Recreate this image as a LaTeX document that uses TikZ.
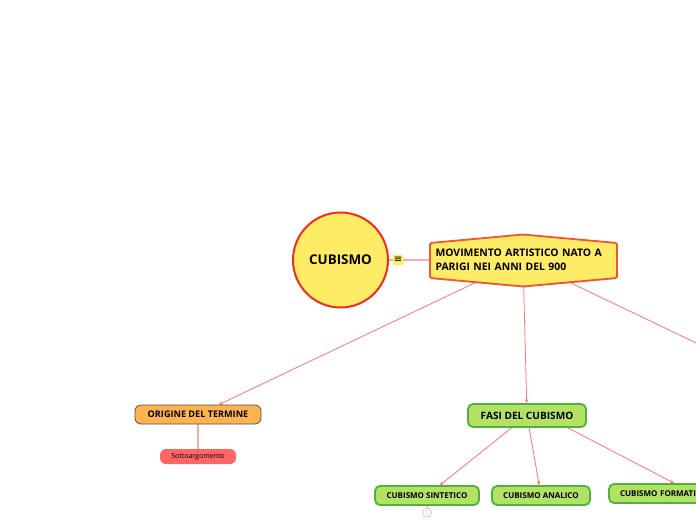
\documentclass[tikz,border=0pt]{standalone}
\usepackage{fontspec}
\setmainfont{Open Sans}[BoldFont={Open Sans Bold}]
\newfontfamily\symbfont{DejaVu Sans}
\usetikzlibrary{arrows.meta, backgrounds, shadows}
\definecolor{linkred}{HTML}{FF7570}
\definecolor{paleLink}{HTML}{FFA8A4}
\definecolor{yellowfill}{HTML}{FFEC66}
\definecolor{greenfill}{HTML}{B2E164}
\definecolor{greenline}{HTML}{4DB33D}

\begin{document}
\begin{tikzpicture}[
    x=1pt, y=-1pt,
    link/.style={-{Stealth[length=4pt, width=3.5pt]}, line width=0.8pt, linkred},
    plainlink/.style={line width=1.1pt, paleLink},
    phase/.style={draw=greenline, fill=greenfill, line width=1.8pt, rounded corners=5pt,
        inner sep=0pt, font=\fontsize{8}{10}\selectfont\bfseries}
]
    \useasboundingbox (0, 0) rectangle (696, 520);
    \clip (0, 0) rectangle (696, 520);

    % Central topic
    \node[circle, draw={rgb,255:red,240;green,45;blue,30}, fill=yellowfill, line width=2pt,
          minimum size=95pt, inner sep=0pt, font=\fontsize{13.4}{15}\selectfont\bfseries] (cubismo) at (340.5, 260) {CUBISMO};

    % Main idea, its outline is drawn behind on the background layer
    \node[align=left, inner sep=0pt, font=\fontsize{10.4}{14}\selectfont\bfseries, text width=175pt] (movimento) at (523, 260)
        {MOVIMENTO ARTISTICO NATO A\\PARIGI NEI ANNI DEL 900};

    % First level
    \node[draw={rgb,255:red,85;green,80;blue,70}, fill={rgb,255:red,255;green,178;blue,80}, line width=0.8pt, rounded corners=6pt,
          minimum width=126pt, minimum height=19pt, inner sep=0pt, font=\fontsize{9.1}{10}\selectfont\bfseries] (origine) at (198, 414.5) {ORIGINE DEL TERMINE};
    \node[fill={rgb,255:red,255;green,102;blue,102}, rounded corners=6pt, minimum width=76pt, minimum height=15pt,
          inner sep=0pt, font=\fontsize{7}{8}\selectfont] (sotto) at (198, 456.5) {Sottoargomento};
    \node[phase, minimum width=118pt, minimum height=23pt, font=\fontsize{10.1}{11}\selectfont\bfseries] (fasi) at (527, 415.5) {FASI DEL CUBISMO};

    % Phases
    \node[phase, minimum width=104pt, minimum height=19pt] (sintetico) at (427, 495.5) {CUBISMO SINTETICO};
    \node[phase, minimum width=98pt, minimum height=19pt] (analico) at (541, 495.5) {CUBISMO ANALICO};
    \node[phase, minimum width=110pt, minimum height=19pt, text width=88pt, align=left] (formativo) at (664, 493.5) {CUBISMO FORMATI};
    \node[circle, draw=paleLink, line width=0.6pt, text=paleLink, minimum size=9pt, inner sep=0pt,
          font=\fontsize{5.5}{6}\selectfont] (numero) at (427, 512.5) {1};

    % Free end, it leaves the page on the right
    \coordinate (fuori) at (720, 354.4);

    \begin{scope}[on background layer]
        % Connectors
        \draw[plainlink] (cubismo) -- (movimento.center);
        \draw[link] (movimento.center) -- (origine);
        \draw[link] (movimento.center) -- (fasi);
        \draw[link, -] (movimento.center) -- (fuori);
        \draw[plainlink] (origine) -- (sotto);
        \draw[link] (fasi) -- (sintetico);
        \draw[link] (fasi) -- (analico);
        \draw[link] ([xshift=41pt]fasi.south) -- ([xshift=10pt]formativo.north);
        \draw[plainlink, line width=0.6pt] (sintetico) -- (numero);

        % Hexagon of the main idea
        \draw[draw={rgb,255:red,240;green,85;blue,50}, fill=yellowfill, line width=1.8pt, rounded corners=1.5pt,
              drop shadow={shadow xshift=0.5pt, shadow yshift=-1pt, opacity=0.2}]
            (430, 243) -- (523, 234.5) -- (617, 243) -- (617, 278) -- (523, 286.5) -- (430, 278) -- cycle;
    \end{scope}

    % Note marker on the link
    \node[fill=yellowfill, rounded corners=2pt, minimum size=10.5pt, inner sep=0pt,
          font=\symbfont\fontsize{10}{10}\selectfont] (nota) at (398, 260) {≡};
\end{tikzpicture}
\end{document}
